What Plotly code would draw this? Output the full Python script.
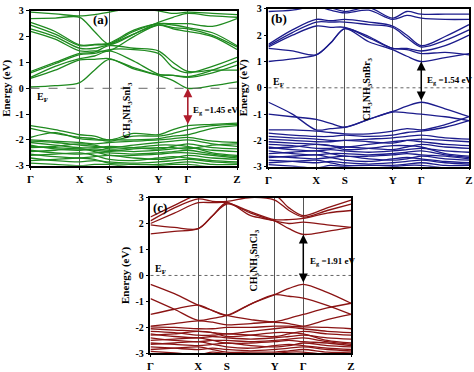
import plotly.graph_objects as go

# k-path sample positions (Γ, ., X, ., S, ., Y, ., Γ, ., Z)
K_PATH = [0, 0.5, 1.0, 1.3, 1.6, 2.1, 2.6, 2.9, 3.2, 3.7, 4.2]
K_TICKS = [0, 1.0, 1.6, 2.6, 3.2, 4.2]
K_LABELS = ["Γ", "X", "S", "Y", "Γ", "Z"]
E_TICKS = [-3, -2, -1, 0, 1, 2, 3]

# ---------------- (a) CH3NH3SnI3 ----------------
A_COND = [
    [0.05, 0.10, 0.22, 0.70, 1.12, 0.75, 0.50, 0.30, 0.00, 0.10, 0.25],
    [0.38, 0.70, 1.10, 1.12, 1.15, 0.80, 0.52, 0.50, 0.42, 0.60, 0.90],
    [0.42, 0.85, 1.15, 1.25, 1.45, 1.05, 0.55, 0.50, 0.45, 0.70, 1.05],
    [0.60, 0.95, 1.30, 1.35, 1.50, 1.50, 1.35, 0.80, 0.60, 0.85, 1.20],
    [0.65, 1.00, 1.35, 1.40, 1.65, 1.55, 1.45, 1.00, 0.65, 0.70, 0.70],
    [2.20, 1.90, 1.45, 1.45, 1.45, 2.00, 2.45, 2.30, 2.20, 2.00, 1.50],
    [2.30, 2.00, 1.55, 1.55, 1.70, 2.10, 2.45, 2.35, 2.30, 2.05, 1.60],
    [2.45, 2.10, 1.65, 1.68, 1.72, 2.20, 2.50, 2.45, 2.35, 2.15, 1.65],
    [2.55, 2.20, 1.68, 1.70, 1.75, 2.25, 2.50, 2.50, 2.50, 2.40, 2.70],
    [2.70, 2.72, 2.75, 2.20, 1.70, 2.10, 2.55, 2.75, 2.90, 2.80, 2.75],
    [2.95, 2.88, 2.80, 2.85, 2.95, 3.10, 3.00, 2.90, 2.95, 2.90, 2.85],
]
A_VAL = [
    [-1.45, -1.60, -1.80, -1.85, -2.00, -1.75, -1.80, -1.60, -1.45, -1.40, -1.35],
    [-1.55, -1.75, -1.90, -1.95, -2.05, -1.85, -1.85, -1.75, -1.60, -1.45, -1.40],
    [-1.90, -1.72, -1.95, -2.00, -2.00, -2.00, -1.95, -1.85, -1.80, -1.55, -1.45],
    [-2.00, -2.05, -2.10, -2.15, -2.10, -2.05, -2.00, -1.95, -1.90, -2.05, -2.10],
    [-2.05, -2.10, -2.20, -2.25, -2.30, -2.20, -2.10, -2.05, -2.00, -2.15, -2.25],
    [-2.10, -2.20, -2.30, -2.30, -2.25, -2.30, -2.35, -2.25, -2.15, -2.30, -2.35],
    [-2.20, -2.35, -2.40, -2.35, -2.40, -2.45, -2.40, -2.35, -2.30, -2.40, -2.45],
    [-2.25, -2.30, -2.35, -2.40, -2.45, -2.35, -2.30, -2.30, -2.35, -2.20, -2.15],
    [-2.30, -2.25, -2.15, -2.20, -2.35, -2.30, -2.20, -2.20, -2.25, -2.50, -2.60],
    [-2.40, -2.50, -2.55, -2.50, -2.50, -2.55, -2.50, -2.45, -2.40, -2.55, -2.65],
    [-2.45, -2.40, -2.35, -2.45, -2.60, -2.60, -2.55, -2.50, -2.50, -2.60, -2.70],
    [-2.55, -2.65, -2.70, -2.65, -2.60, -2.70, -2.75, -2.70, -2.60, -2.70, -2.75],
    [-2.60, -2.55, -2.50, -2.60, -2.75, -2.80, -2.70, -2.65, -2.70, -2.80, -2.85],
    [-2.70, -2.80, -2.85, -2.80, -2.85, -2.90, -2.85, -2.80, -2.75, -2.85, -2.90],
    [-2.80, -2.75, -2.70, -2.75, -2.90, -2.95, -2.95, -2.90, -2.85, -2.95, -2.95],
    [-2.90, -2.95, -3.00, -2.95, -2.95, -3.05, -3.00, -2.95, -2.95, -3.05, -3.10],
]

# ---------------- (b) CH3NH3SnBr3 ----------------
B_COND = [
    [1.00, 1.10, 1.25, 1.70, 2.25, 1.75, 1.45, 1.20, 1.00, 1.15, 1.30],
    [1.50, 1.40, 1.25, 1.70, 2.25, 1.90, 1.50, 1.45, 1.30, 1.35, 1.25],
    [1.55, 2.00, 2.35, 2.30, 2.30, 1.95, 1.50, 1.50, 1.40, 1.60, 2.00],
    [1.60, 2.10, 2.50, 2.50, 2.50, 2.40, 2.30, 1.90, 1.55, 1.80, 2.20],
    [1.65, 2.20, 2.60, 2.55, 2.60, 2.50, 2.35, 2.00, 1.60, 1.95, 2.40],
    [2.90, 2.95, 3.10, 2.95, 2.85, 2.95, 2.60, 2.75, 2.65, 2.60, 2.60],
    [3.10, 3.15, 3.20, 3.05, 2.90, 3.05, 2.65, 2.90, 2.80, 2.80, 2.80],
]
B_VAL = [
    [-0.55, -1.00, -1.60, -1.55, -1.50, -1.20, -0.90, -0.70, -0.55, -0.80, -1.10],
    [-1.00, -1.10, -1.20, -1.35, -1.50, -1.20, -0.92, -0.95, -1.00, -1.10, -1.25],
    [-1.60, -1.60, -1.65, -1.70, -1.75, -1.75, -1.65, -1.55, -1.60, -1.40, -1.10],
    [-1.72, -1.80, -1.85, -1.85, -1.80, -1.85, -1.80, -1.70, -1.65, -1.50, -1.25],
    [-1.85, -1.90, -1.95, -2.00, -2.00, -1.95, -1.90, -1.85, -1.80, -1.90, -1.95],
    [-1.95, -2.00, -2.05, -2.05, -2.00, -2.05, -2.10, -2.00, -1.95, -2.00, -2.05],
    [-2.05, -2.10, -2.15, -2.20, -2.25, -2.15, -2.05, -2.00, -2.05, -2.15, -2.20],
    [-2.15, -2.20, -2.30, -2.30, -2.25, -2.30, -2.35, -2.25, -2.15, -2.25, -2.30],
    [-2.25, -2.35, -2.40, -2.35, -2.40, -2.45, -2.40, -2.35, -2.30, -2.40, -2.45],
    [-2.30, -2.25, -2.15, -2.20, -2.35, -2.30, -2.20, -2.20, -2.25, -2.50, -2.60],
    [-2.40, -2.50, -2.55, -2.50, -2.50, -2.55, -2.50, -2.45, -2.40, -2.55, -2.65],
    [-2.50, -2.45, -2.40, -2.50, -2.60, -2.60, -2.55, -2.50, -2.55, -2.60, -2.70],
    [-2.60, -2.65, -2.70, -2.65, -2.60, -2.70, -2.75, -2.70, -2.60, -2.70, -2.75],
    [-2.65, -2.60, -2.55, -2.65, -2.75, -2.80, -2.70, -2.65, -2.70, -2.80, -2.85],
    [-2.75, -2.80, -2.85, -2.80, -2.85, -2.90, -2.85, -2.80, -2.75, -2.85, -2.90],
    [-2.85, -2.80, -2.75, -2.85, -2.95, -2.95, -2.95, -2.90, -2.85, -2.95, -2.95],
    [-2.92, -2.98, -3.05, -2.95, -3.00, -3.05, -3.00, -2.95, -2.95, -3.05, -3.10],
]

# ---------------- (c) CH3NH3SnCl3 ----------------
C_COND = [
    [1.60, 1.70, 1.80, 2.30, 2.80, 2.30, 2.10, 1.80, 1.58, 1.70, 1.85],
    [1.95, 1.85, 1.80, 2.30, 2.75, 2.40, 2.10, 2.00, 2.05, 1.95, 1.85],
    [2.00, 2.40, 2.80, 2.80, 2.80, 2.45, 2.15, 2.15, 2.20, 2.40, 2.50],
    [2.10, 2.60, 2.95, 2.85, 2.85, 3.00, 2.90, 2.50, 2.25, 2.50, 2.75],
    [2.25, 2.70, 3.10, 3.05, 3.00, 3.10, 3.10, 2.60, 2.30, 2.60, 2.90],
]
C_VAL = [
    [-0.34, -0.70, -1.14, -1.35, -1.54, -1.10, -0.74, -0.50, -0.34, -0.65, -1.07],
    [-0.89, -1.30, -1.73, -1.65, -1.54, -1.10, -0.74, -0.80, -0.87, -1.15, -1.50],
    [-1.50, -1.30, -1.14, -1.35, -1.54, -1.70, -1.78, -1.65, -1.50, -1.25, -1.07],
    [-1.95, -1.85, -1.75, -1.80, -1.90, -1.85, -1.80, -1.85, -1.95, -1.70, -1.50],
    [-1.98, -2.00, -2.05, -2.05, -2.00, -2.00, -1.95, -1.95, -1.98, -2.00, -2.05],
    [-2.05, -2.10, -2.15, -2.20, -2.25, -2.15, -2.05, -2.00, -2.05, -2.15, -2.20],
    [-2.15, -2.20, -2.30, -2.30, -2.25, -2.30, -2.35, -2.25, -2.15, -2.25, -2.30],
    [-2.25, -2.35, -2.40, -2.35, -2.40, -2.45, -2.40, -2.35, -2.30, -2.40, -2.45],
    [-2.30, -2.25, -2.15, -2.20, -2.35, -2.30, -2.20, -2.20, -2.25, -2.50, -2.60],
    [-2.40, -2.50, -2.55, -2.50, -2.50, -2.55, -2.50, -2.45, -2.40, -2.55, -2.65],
    [-2.50, -2.45, -2.40, -2.50, -2.60, -2.60, -2.55, -2.50, -2.55, -2.60, -2.70],
    [-2.60, -2.65, -2.70, -2.65, -2.60, -2.70, -2.75, -2.70, -2.60, -2.70, -2.75],
    [-2.65, -2.60, -2.55, -2.65, -2.75, -2.80, -2.70, -2.65, -2.70, -2.80, -2.85],
    [-2.75, -2.80, -2.85, -2.80, -2.85, -2.90, -2.85, -2.80, -2.75, -2.85, -2.90],
    [-2.85, -2.80, -2.75, -2.85, -2.95, -2.95, -2.95, -2.90, -2.85, -2.95, -2.95],
    [-2.92, -2.98, -3.05, -2.95, -3.00, -3.05, -3.00, -2.95, -2.95, -3.05, -3.10],
]

GAPS = [1.45, 1.54, 1.91]
GAP_TOP = [0.0, 1.00, 1.58]
GAP_BOT = [-1.45, -0.54, -0.33]
NAMES = ["CH<sub>3</sub>NH<sub>3</sub>SnI<sub>3</sub>",
         "CH<sub>3</sub>NH<sub>3</sub>SnBr<sub>3</sub>",
         "CH<sub>3</sub>NH<sub>3</sub>SnCl<sub>3</sub>"]
PANEL_TAGS = ["(a)", "(b)", "(c)"]
COLORS = ["#1f8a1f", "#1c1c8c", "#8b1414"]
ARROW_COLORS = ["#b01c2c", "#000000", "#000000"]

FONT = "Liberation Serif"
W, H = 474, 372

# subplot domains (x, y) in paper fractions
DOMAINS = [
    ([27 / W, 237 / W], [(H - 166) / H, (H - 5) / H]),
    ([269 / W, 473 / W], [(H - 167) / H, (H - 3) / H]),
    ([149 / W, 353 / W], [(H - 361) / H, (H - 199) / H]),
]

fig = go.Figure()
panels = [(A_COND, A_VAL), (B_COND, B_VAL), (C_COND, C_VAL)]
for i, (cond, val) in enumerate(panels):
    xa = "x" if i == 0 else f"x{i+1}"
    ya = "y" if i == 0 else f"y{i+1}"
    for band in cond + val:
        fig.add_trace(go.Scatter(x=K_PATH, y=band, mode="lines",
                                 line=dict(color=COLORS[i], width=1.3, shape="spline", smoothing=0.9),
                                 xaxis=xa, yaxis=ya, showlegend=False, hoverinfo="skip"))

layout = dict(width=W, height=H, margin=dict(l=0, r=0, t=0, b=0),
              paper_bgcolor="white", plot_bgcolor="white", showlegend=False)

shapes = []
annotations = []
for i in range(3):
    sx = "" if i == 0 else str(i + 1)
    xd, yd = DOMAINS[i]
    layout["xaxis" + sx] = dict(domain=xd, anchor="y" + sx, range=[0, 4.2],
                                tickvals=K_TICKS, ticktext=K_LABELS,
                                showgrid=True, gridcolor="#555555", gridwidth=1,
                                showline=True, linecolor="black", linewidth=1.5, mirror=True,
                                ticks="outside", ticklen=2, tickcolor="black",
                                tickfont=dict(family=FONT, size=11, color="black", weight="bold"),
                                zeroline=False, fixedrange=True)
    layout["yaxis" + sx] = dict(domain=yd, anchor="x" + sx, range=[-3, 3],
                                tickvals=E_TICKS, ticktext=[str(v) for v in E_TICKS],
                                showgrid=False, showline=True, linecolor="black", linewidth=1.5,
                                mirror=True, ticks="outside", ticklen=3, tickcolor="black",
                                tickfont=dict(family=FONT, size=10, color="black", weight="bold"),
                                title=dict(text="Energy (eV)", standoff=4,
                                           font=dict(family=FONT, size=11, color="black", weight="bold")),
                                zeroline=False, fixedrange=True)
    xa = "x" + sx
    ya = "y" + sx
    # Fermi level
    shapes.append(dict(type="line", xref=xa + " domain", yref=ya, x0=0, x1=1, y0=0, y1=0,
                       line=dict(color="#666666", width=1, dash="dash" if i == 0 else "dot"),
                       layer="above"))
    # gap arrow
    annotations.append(dict(x=3.2, y=GAP_TOP[i], ax=3.2, ay=GAP_BOT[i], xref=xa, yref=ya,
                            axref=xa, ayref=ya, text="", showarrow=True, arrowhead=2,
                            arrowsize=1.2, arrowwidth=1.5, arrowside="end+start",
                            arrowcolor=ARROW_COLORS[i], standoff=0, startstandoff=0))

# text annotations (positions in data units of each panel)
TAG_POS = [(1.42, 2.66), (0.23, 2.63), (0.19, 2.63)]
EF_POS = [(0.1, -0.36), (0.05, 0.22), (0.05, 0.22)]
NAME_POS = [(1.96, -0.85), (2.08, -0.04), (2.18, 0.56)]
EG_POS = [(3.26, -0.85), (3.28, 0.27), (3.30, 0.52)]
for i in range(3):
    sx = "" if i == 0 else str(i + 1)
    xa, ya = "x" + sx, "y" + sx
    annotations.append(dict(x=TAG_POS[i][0], y=TAG_POS[i][1], xref=xa, yref=ya, text=PANEL_TAGS[i],
                            showarrow=False, font=dict(family=FONT, size=13, color="black", weight="bold")))
    annotations.append(dict(x=EF_POS[i][0], y=EF_POS[i][1], xref=xa, yref=ya, text="E<sub>F</sub>",
                            xanchor="left", showarrow=False,
                            font=dict(family=FONT, size=10, color="black", weight="bold")))
    annotations.append(dict(x=NAME_POS[i][0], y=NAME_POS[i][1], xref=xa, yref=ya, text=NAMES[i],
                            textangle=-90, showarrow=False,
                            font=dict(family=FONT, size=10, color="black", weight="bold")))
    annotations.append(dict(x=EG_POS[i][0], y=EG_POS[i][1], xref=xa, yref=ya,
                            text=f"E<sub>g</sub> =%.2f eV" % GAPS[i], xanchor="left", showarrow=False,
                            font=dict(family=FONT, size=9, color="black", weight="bold")))

layout["shapes"] = shapes
layout["annotations"] = annotations
fig.update_layout(**layout)
fig.write_html("out.html", config={"displayModeBar": False},
               post_script="document.body.style.margin='0';document.body.style.padding='0';")
